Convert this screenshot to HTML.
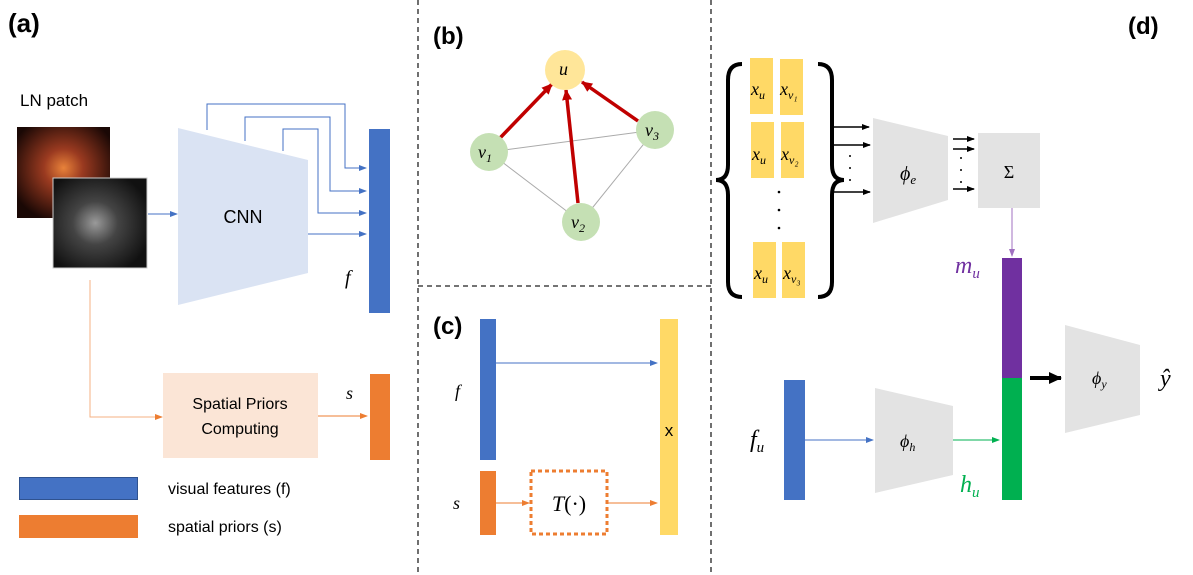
<!DOCTYPE html>
<html><head><meta charset="utf-8"><style>body{margin:0;background:#fff}svg{display:block}</style></head><body>
<svg width="1193" height="575" viewBox="0 0 1193 575" xmlns="http://www.w3.org/2000/svg" font-family="Liberation Sans, sans-serif">
<defs>
<marker id="ab" markerWidth="8" markerHeight="8" refX="7" refY="4" orient="auto" markerUnits="userSpaceOnUse"><path d="M0,1 L8,4 L0,7z" fill="#4472c4"/></marker>
<marker id="ao" markerWidth="8" markerHeight="8" refX="7" refY="4" orient="auto" markerUnits="userSpaceOnUse"><path d="M0,1 L8,4 L0,7z" fill="#ed7d31"/></marker>
<marker id="ak" markerWidth="8" markerHeight="8" refX="7" refY="4" orient="auto" markerUnits="userSpaceOnUse"><path d="M0,1 L8,4 L0,7z" fill="#000"/></marker>
<marker id="ar" markerWidth="12" markerHeight="12" refX="10" refY="6" orient="auto" markerUnits="userSpaceOnUse"><path d="M0,1 L11,6 L0,11z" fill="#c00000"/></marker>
<marker id="ap" markerWidth="8" markerHeight="8" refX="7" refY="4" orient="auto" markerUnits="userSpaceOnUse"><path d="M0,1 L8,4 L0,7z" fill="#a070c0"/></marker>
<marker id="ag" markerWidth="8" markerHeight="8" refX="7" refY="4" orient="auto" markerUnits="userSpaceOnUse"><path d="M0,1 L8,4 L0,7z" fill="#00b050"/></marker>
<marker id="akb" markerWidth="14" markerHeight="14" refX="12" refY="7" orient="auto" markerUnits="userSpaceOnUse"><path d="M0,1 L13,7 L0,13z" fill="#000"/></marker>
<radialGradient id="pet" cx="0.5" cy="0.45" r="0.6"><stop offset="0" stop-color="#e8823a"/><stop offset="0.35" stop-color="#9a3a20"/><stop offset="1" stop-color="#1a0805"/></radialGradient>
<radialGradient id="ct" cx="0.45" cy="0.5" r="0.6"><stop offset="0" stop-color="#9a9a9a"/><stop offset="0.4" stop-color="#444"/><stop offset="1" stop-color="#111"/></radialGradient>
</defs>
<!-- dividers -->
<g stroke="#222" stroke-width="1.3" stroke-dasharray="5,4" fill="none">
<line x1="418" y1="0" x2="418" y2="575"/><line x1="711" y1="0" x2="711" y2="575"/><line x1="418" y1="286" x2="711" y2="286"/>
</g>
<!-- (a) -->
<text x="8" y="32" font-size="26" font-weight="bold">(a)</text>
<text x="20" y="106" font-size="17">LN patch</text>
<rect x="17" y="127" width="93" height="91" fill="url(#pet)"/>
<rect x="53" y="178" width="94" height="90" fill="url(#ct)" stroke="#ccc"/>
<line x1="148" y1="214" x2="177" y2="214" stroke="#4472c4" marker-end="url(#ab)"/>
<polygon points="178,128 308,160 308,273 178,305" fill="#dae3f3"/>
<text x="243" y="223" font-size="18" text-anchor="middle">CNN</text>
<g stroke="#4472c4" fill="none" stroke-width="1">
<polyline points="207,130 207,104 345,104 345,168 366,168" marker-end="url(#ab)"/>
<polyline points="245,141 245,117 330,117 330,191 366,191" marker-end="url(#ab)"/>
<polyline points="283,151 283,129 318,129 318,213 366,213" marker-end="url(#ab)"/>
<polyline points="308,234 366,234" marker-end="url(#ab)"/>
</g>
<rect x="369" y="129" width="21" height="184" fill="#4472c4"/>
<text x="345" y="284" font-size="20" font-style="italic" font-family="Liberation Serif, serif">f</text>
<polyline points="90,280 90,417 162,417" stroke="#f4b183" fill="none" marker-end="url(#ao)"/>
<rect x="163" y="373" width="155" height="85" fill="#fbe5d6"/>
<text x="240" y="409" font-size="16" text-anchor="middle">Spatial Priors</text>
<text x="240" y="434" font-size="16" text-anchor="middle">Computing</text>
<line x1="318" y1="416" x2="367" y2="416" stroke="#ed7d31" marker-end="url(#ao)"/>
<text x="346" y="399" font-size="18" font-style="italic" font-family="Liberation Serif, serif">s</text>
<rect x="370" y="374" width="20" height="86" fill="#ed7d31"/>
<rect x="19.5" y="477.5" width="118" height="22" fill="#4472c4" stroke="#2f528f"/>
<rect x="19" y="515" width="119" height="23" fill="#ed7d31"/>
<text x="168" y="494" font-size="16">visual features (f)</text>
<text x="168" y="532" font-size="16">spatial priors (s)</text>
<!-- (b) -->
<text x="433" y="44" font-size="24" font-weight="bold">(b)</text>
<g stroke="#aaa" stroke-width="1"><line x1="489" y1="152" x2="655" y2="130"/><line x1="489" y1="152" x2="581" y2="222"/><line x1="655" y1="130" x2="581" y2="222"/></g>
<g stroke="#c00000" stroke-width="3.5"><line x1="500" y1="138" x2="552" y2="84" marker-end="url(#ar)"/><line x1="578" y1="203" x2="566" y2="90" marker-end="url(#ar)"/><line x1="638" y1="121" x2="582" y2="82" marker-end="url(#ar)"/></g>
<circle cx="565" cy="70" r="20" fill="#ffe699"/>
<circle cx="489" cy="152" r="19" fill="#c5e0b4"/><circle cx="655" cy="130" r="19" fill="#c5e0b4"/><circle cx="581" cy="222" r="19" fill="#c5e0b4"/>
<g font-family="Liberation Serif, serif" font-style="italic" font-size="18">
<text x="559" y="75">u</text><text x="478" y="158">v<tspan font-size="12" dy="4">1</tspan></text><text x="645" y="136">v<tspan font-size="12" dy="4">3</tspan></text><text x="571" y="228">v<tspan font-size="12" dy="4">2</tspan></text></g>
<!-- (c) -->
<text x="433" y="334" font-size="24" font-weight="bold">(c)</text>
<rect x="480" y="319" width="16" height="141" fill="#4472c4"/>
<rect x="480" y="471" width="16" height="64" fill="#ed7d31"/>
<rect x="660" y="319" width="18" height="216" fill="#ffd966"/>
<text x="669" y="436" font-size="17" text-anchor="middle">x</text>
<line x1="496" y1="363" x2="657" y2="363" stroke="#4472c4" marker-end="url(#ab)"/>
<text x="455" y="397" font-size="18" font-style="italic" font-family="Liberation Serif, serif">f</text>
<text x="453" y="509" font-size="18" font-style="italic" font-family="Liberation Serif, serif">s</text>
<line x1="496" y1="503" x2="529" y2="503" stroke="#ed7d31" marker-end="url(#ao)"/>
<rect x="531" y="471" width="76" height="63" fill="none" stroke="#ed7d31" stroke-width="3" stroke-dasharray="4,3"/>
<text x="569" y="511" font-size="22" text-anchor="middle" font-family="Liberation Serif, serif"><tspan font-style="italic">T</tspan>(·)</text>
<line x1="608" y1="503" x2="657" y2="503" stroke="#ed7d31" marker-end="url(#ao)"/>
<!-- (d) -->
<text x="1128" y="34" font-size="24" font-weight="bold">(d)</text>
<path d="M742,64 Q728,64 728,80 L728,165 Q728,180 716,180 Q728,180 728,195 L728,282 Q728,297 742,297" fill="none" stroke="#000" stroke-width="4"/>
<path d="M818,64 Q832,64 832,80 L832,165 Q832,180 844,180 Q832,180 832,195 L832,282 Q832,297 818,297" fill="none" stroke="#000" stroke-width="4"/>
<g fill="#ffd966"><rect x="750" y="58" width="23" height="56"/><rect x="780" y="59" width="23" height="56"/><rect x="751" y="122" width="23" height="56"/><rect x="781" y="122" width="23" height="56"/><rect x="753" y="242" width="23" height="56"/><rect x="782" y="242" width="23" height="56"/></g>
<g font-family="Liberation Serif, serif" font-style="italic" font-size="18">
<text x="751" y="95">x<tspan font-size="12" dy="4">u</tspan></text><text x="780" y="95">x<tspan font-size="12" dy="4">v₁</tspan></text>
<text x="752" y="160">x<tspan font-size="12" dy="4">u</tspan></text><text x="781" y="160">x<tspan font-size="12" dy="4">v₂</tspan></text>
<text x="754" y="279">x<tspan font-size="12" dy="4">u</tspan></text><text x="783" y="279">x<tspan font-size="12" dy="4">v₃</tspan></text></g>
<g fill="#000"><circle cx="779" cy="192" r="1.3"/><circle cx="779" cy="210" r="1.3"/><circle cx="779" cy="228" r="1.3"/><circle cx="850" cy="156" r="1"/><circle cx="850" cy="168" r="1"/><circle cx="850" cy="180" r="1"/><circle cx="961" cy="158" r="1"/><circle cx="961" cy="170" r="1"/><circle cx="961" cy="182" r="1"/></g>
<g stroke="#000" stroke-width="1.5"><line x1="832" y1="127" x2="869" y2="127" marker-end="url(#ak)"/><line x1="834" y1="145" x2="870" y2="145" marker-end="url(#ak)"/><line x1="833" y1="192" x2="870" y2="192" marker-end="url(#ak)"/>
<line x1="953" y1="139" x2="974" y2="139" marker-end="url(#ak)"/><line x1="953" y1="149" x2="974" y2="149" marker-end="url(#ak)"/><line x1="953" y1="189" x2="974" y2="189" marker-end="url(#ak)"/></g>
<polygon points="873,118 948,136 948,200 873,223" fill="#e3e3e3"/>
<text x="900" y="180" font-size="20" font-style="italic" font-family="Liberation Serif, serif">ϕ<tspan font-size="13" dy="4">e</tspan></text>
<rect x="978" y="133" width="62" height="75" fill="#e3e3e3"/>
<text x="1009" y="178" font-size="18" text-anchor="middle" font-family="Liberation Serif, serif">Σ</text>
<line x1="1012" y1="208" x2="1012" y2="256" stroke="#a070c0" marker-end="url(#ap)"/>
<rect x="1002" y="258" width="20" height="120" fill="#7030a0"/>
<rect x="1002" y="378" width="20" height="122" fill="#00b050"/>
<text x="955" y="273" font-size="24" font-style="italic" fill="#7030a0" font-family="Liberation Serif, serif">m<tspan font-size="15" dy="5">u</tspan></text>
<text x="960" y="492" font-size="24" font-style="italic" fill="#00b050" font-family="Liberation Serif, serif">h<tspan font-size="15" dy="5">u</tspan></text>
<rect x="784" y="380" width="21" height="120" fill="#4472c4"/>
<text x="750" y="447" font-size="24" font-style="italic" font-family="Liberation Serif, serif">f<tspan font-size="15" dy="5">u</tspan></text>
<polygon points="875,388 953,406 953,475 875,493" fill="#e3e3e3"/>
<text x="900" y="447" font-size="18" font-style="italic" font-family="Liberation Serif, serif">ϕ<tspan font-size="12" dy="4">h</tspan></text>
<line x1="805" y1="440" x2="873" y2="440" stroke="#4472c4" marker-end="url(#ab)"/>
<line x1="953" y1="440" x2="999" y2="440" stroke="#00b050" marker-end="url(#ag)"/>
<line x1="1030" y1="378" x2="1061" y2="378" stroke="#000" stroke-width="4" marker-end="url(#akb)"/>
<polygon points="1065,325 1140,345 1140,415 1065,433" fill="#e3e3e3"/>
<text x="1092" y="384" font-size="18" font-style="italic" font-family="Liberation Serif, serif">ϕ<tspan font-size="12" dy="4">y</tspan></text>
<text x="1160" y="386" font-size="24" font-style="italic" font-family="Liberation Serif, serif">ŷ</text>
</svg>
</body></html>
